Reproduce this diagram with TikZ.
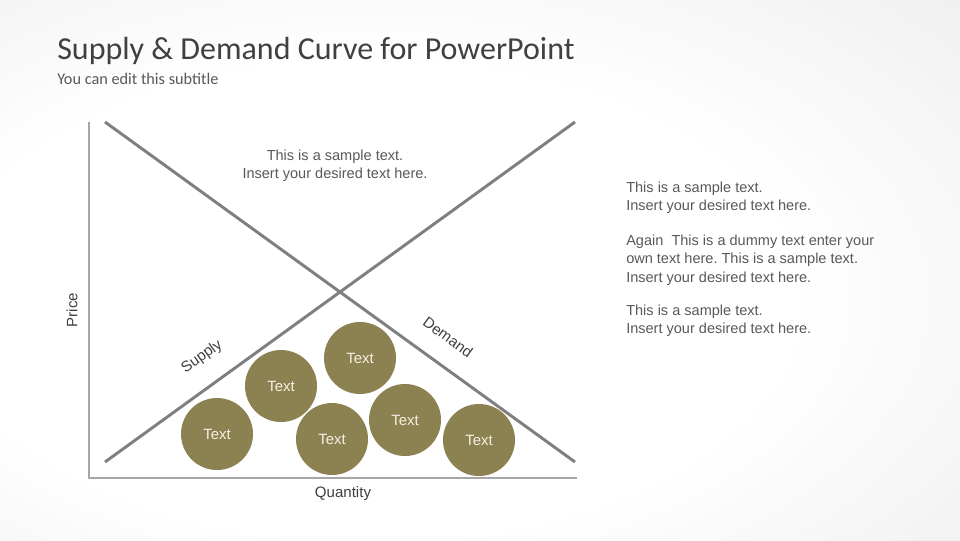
\documentclass[tikz,border=0pt]{standalone}
\usepackage{fontspec}
\setmainfont{Liberation Sans}
\newfontfamily\titlefont{Carlito}
\definecolor{bubfill}{HTML}{8C8151}
\definecolor{bubtext}{HTML}{F4F1E4}
\definecolor{linegray}{HTML}{7F7F7F}
\definecolor{axisgray}{HTML}{A6A6A6}
\definecolor{txtgray}{HTML}{595959}
\definecolor{titlegray}{HTML}{404040}
\definecolor{bgouter}{HTML}{CFCFCF}
\pgfdeclareradialshading{bgshade}{\pgfpoint{-8bp}{-4bp}}{color(0bp)=(white); color(22bp)=(white); color(78bp)=(bgouter)}
\tikzset{
  bub/.style={circle, fill=bubfill, minimum size=54pt, inner sep=0pt, text=bubtext, font=\fontsize{11.2}{13}\selectfont},
  curve/.style={draw=linegray, line width=2.2pt},
  axis/.style={draw=axisgray, line width=1pt},
  body/.style={text=txtgray, font=\fontsize{10.9}{13.8}\selectfont, inner sep=0pt},
  lab/.style={text=titlegray, font=\fontsize{11.3}{13}\selectfont, inner sep=0pt}
}
\begin{document}
\begin{tikzpicture}[x=0.75pt, y=-0.75pt]
\path[shading=bgshade] (0,0) rectangle (960,540);
\useasboundingbox (0,0) rectangle (960,540);
% title
\node[anchor=west, inner sep=0pt, text=titlegray, font=\titlefont\fontsize{24}{28}\selectfont] (title) at (57,51) {Supply \& Demand Curve for PowerPoint};
\node[anchor=west, inner sep=0pt, text=txtgray, font=\titlefont\fontsize{12.2}{14}\selectfont] (subtitle) at (57,79) {You can edit this subtitle};
% axes
\coordinate (otop) at (89,122);
\coordinate (o) at (89,478);
\coordinate (oright) at (577,478);
\draw[axis] (otop) -- (o) -- (oright);
% curves
\coordinate (d1) at (105,122);
\coordinate (d2) at (575,462);
\coordinate (s1) at (105,462);
\coordinate (s2) at (575,122);
\draw[curve] (d1) -- (d2);
\draw[curve] (s1) -- (s2);
% axis labels
\node[lab, rotate=90] (price) at (72,310) {Price};
\node[lab] (qty) at (343,494) {Quantity};
\node[lab, rotate=36] (supply) at (202,357) {Supply};
\node[lab, rotate=-36] (demand) at (448,337) {Demand};
% bubbles
\node[bub] (c1) at (217,434) {Text};
\node[bub] (c2) at (281,386) {Text};
\node[bub] (c3) at (360,358) {Text};
\node[bub] (c4) at (332,439) {Text};
\node[bub] (c5) at (405,420) {Text};
\node[bub] (c6) at (479,440) {Text};
% texts
\node[body, align=center] (toptext) at (335,166) {This is a sample text.\\Insert your desired text here.};
\node[body, align=left, anchor=west] (p1) at (626,198) {This is a sample text.\\Insert your desired text here.};
\node[body, align=left, anchor=west] (p2) at (626,260) {Again\ \ This is a dummy text enter your\\own text here.\ This is a sample text.\\Insert your desired text here.};
\node[body, align=left, anchor=west] (p3) at (626,321) {This is a sample text.\\Insert your desired text here.};
\end{tikzpicture}
\end{document}
